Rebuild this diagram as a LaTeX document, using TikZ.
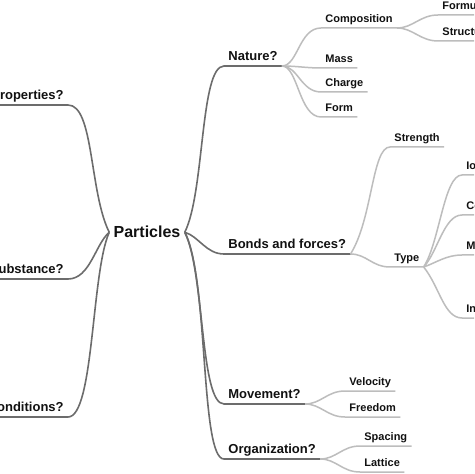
\documentclass[tikz,border=0pt]{standalone}
\usepackage{fontspec}
\setmainfont{Liberation Sans}
\usepackage{tikz}
\definecolor{ink}{HTML}{111111}
\definecolor{trunkgray}{HTML}{6C6C6C}
\definecolor{twiggray}{HTML}{BDBDBD}
\tikzset{
  root/.style={font=\fontsize{8}{9}\selectfont\bfseries,text=ink,
               inner sep=2pt,anchor=base},
  topic/.style={font=\fontsize{6.5}{7.5}\selectfont\bfseries,text=ink,
                inner xsep=2pt,inner ysep=2.5pt,text depth=0pt},
  subtopic/.style={font=\fontsize{5.5}{6.5}\selectfont\bfseries,text=ink,
                   inner xsep=2pt,inner ysep=2.5pt,text depth=0pt,
                   anchor=south west},
  trunk/.style={draw=trunkgray,line width=0.8pt},
  twig/.style={draw=twiggray,line width=0.75pt}
}

\begin{document}
\begin{tikzpicture}[x=0.5pt,y=-0.5pt]
    \path[use as bounding box,fill=white] (0,0) rectangle (474,474);
    \clip (0,0) rectangle (474,474);

    \node[root] (part) at (147,238) {Particles};

    \node[topic,anchor=south east] (prop) at (68,105) {Properties?};
    \node[topic,anchor=south east] (subs) at (68,279) {Substance?};
    \node[topic,anchor=south east] (cond) at (68,417) {Conditions?};
    \node[topic,anchor=south west] (nat) at (224,66) {Nature?};
    \node[topic,anchor=south west] (bond) at (224,254) {Bonds and forces?};
    \node[topic,anchor=south west] (mov) at (224,404) {Movement?};
    \node[topic,anchor=south west] (org) at (224,459) {Organization?};

    \draw[trunk] (part.west) .. controls +(-20,-40) and +(26,0) .. (prop.south east) -- (prop.south west);
    \draw[trunk] (part.west) .. controls +(-14,12) and +(22,0) .. (subs.south east) -- (subs.south west);
    \draw[trunk] (part.west) .. controls +(-18,40) and +(26,0) .. (cond.south east) -- (cond.south west);
    \draw[trunk] (part.east) .. controls +(20,-40) and +(-24,0) .. (nat.south west) -- (nat.south east);
    \draw[trunk] (part.east) .. controls +(14,4) and +(-18,0) .. (bond.south west) -- (bond.south east);
    \draw[trunk] (part.east) .. controls +(20,40) and +(-24,0) .. (mov.south west) -- (mov.south east);
    \draw[trunk] (part.east) .. controls +(24,45) and +(-24,0) .. (org.south west) -- (org.south east);

    % nature
    \node[subtopic] (comp) at (321,28) {Composition};
    \node[subtopic] (mass) at (321,68) {Mass};
    \node[subtopic] (chg) at (321,92) {Charge};
    \node[subtopic] (shape) at (321,117) {Form};
    \node[subtopic] (formula) at (438,15) {Formula};
    \node[subtopic] (struct) at (438,41) {Structure};
    \draw[twig] (nat.south east) .. controls +(16,0) and +(-22,0) .. (comp.south west) -- (comp.south east);
    \draw[twig] (nat.south east) .. controls +(15,0) and +(-15,0) .. (mass.south west) -- (mass.south east);
    \draw[twig] (nat.south east) .. controls +(16,0) and +(-20,0) .. (chg.south west) -- (chg.south east);
    \draw[twig] (nat.south east) .. controls +(16,0) and +(-22,0) .. (shape.south west) -- (shape.south east);
    \draw[twig] (comp.south east) .. controls +(16,0) and +(-18,0) .. (formula.south west) -- (formula.south east);
    \draw[twig] (comp.south east) .. controls +(16,0) and +(-18,0) .. (struct.south west) -- (struct.south east);

    % bonds
    \node[subtopic] (str) at (390,147) {Strength};
    \node[subtopic] (type) at (390,267) {Type};
    \node[subtopic] (ion) at (462,175) {Ionic};
    \node[subtopic] (cov) at (462,215) {Covalent};
    \node[subtopic] (met) at (462,255) {Metallic};
    \node[subtopic] (inter) at (462,318) {Intermolecular};
    \draw[twig] (bond.south east) .. controls +(22,-35) and +(-18,0) .. (str.south west) -- (str.south east);
    \draw[twig] (bond.south east) .. controls +(16,0) and +(-18,0) .. (type.south west) -- (type.south east);
    \draw[twig] (type.south east) .. controls +(16,-25) and +(-18,0) .. (ion.south west) -- (ion.south east);
    \draw[twig] (type.south east) .. controls +(14,-15) and +(-18,0) .. (cov.south west) -- (cov.south east);
    \draw[twig] (type.south east) .. controls +(12,-4) and +(-16,0) .. (met.south west) -- (met.south east);
    \draw[twig] (type.south east) .. controls +(16,20) and +(-18,0) .. (inter.south west) -- (inter.south east);

    % movement, organization
    \node[subtopic] (vel) at (345,391) {Velocity};
    \node[subtopic] (free) at (345,417) {Freedom};
    \node[subtopic] (spa) at (360,446) {Spacing};
    \node[subtopic] (lat) at (360,472) {Lattice};
    \draw[twig] (mov.south east) .. controls +(16,0) and +(-18,0) .. (vel.south west) -- (vel.south east);
    \draw[twig] (mov.south east) .. controls +(16,0) and +(-18,0) .. (free.south west) -- (free.south east);
    \draw[twig] (org.south east) .. controls +(16,0) and +(-18,0) .. (spa.south west) -- (spa.south east);
    \draw[twig] (org.south east) .. controls +(16,0) and +(-18,0) .. (lat.south west) -- (lat.south east);
\end{tikzpicture}
\end{document}
